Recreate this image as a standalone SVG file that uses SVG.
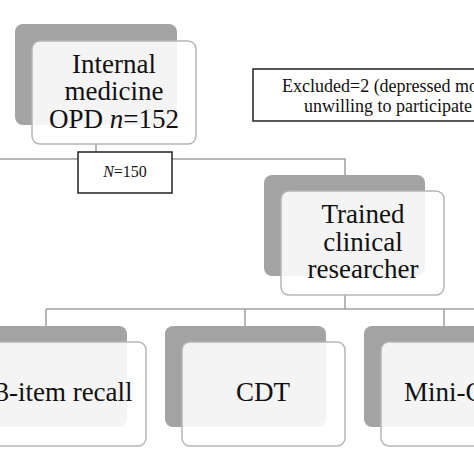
<svg xmlns="http://www.w3.org/2000/svg" width="474" height="474" viewBox="0 0 474 474">
<style>
.back{fill:#a3a3a3}
.front{fill:#ffffff;fill-opacity:0.88;stroke:#b5b5b5;stroke-width:1.5}
.big{font-family:"Liberation Serif",serif;font-size:27px;fill:#111;text-anchor:middle}
.bigl{font-family:"Liberation Serif",serif;font-size:27px;fill:#111;text-anchor:start}
.small{font-family:"Liberation Serif",serif;font-size:18px;fill:#111}
.nlab{font-family:"Liberation Serif",serif;font-size:16px;fill:#111;text-anchor:middle}
.conn{stroke:#a0a0a0;stroke-width:1.5;fill:none}
.box{fill:#fff;stroke:#222;stroke-width:1.5}
</style>
<rect width="474" height="474" fill="#fff"/>
<g id="connectors">
<path class="conn" d="M96 144V152M0 159H345V175M345 295V309M46 309H474M46 309V326M245 309V326M444 309V326"/>
</g>
<g id="opd">
<rect class="back" x="15" y="24" width="162" height="101" rx="8"/>
<rect class="front" x="32" y="41" width="164" height="103" rx="8"/>
<text class="big" x="114" y="73">Internal</text>
<text class="big" x="114" y="100">medicine</text>
<text class="big" x="114" y="128">OPD <tspan font-style="italic">n</tspan>=152</text>
</g>
<g id="n150">
<rect class="box" x="78" y="152" width="94" height="41"/>
<text class="nlab" x="125" y="177"><tspan font-style="italic">N</tspan>=150</text>
</g>
<g id="excluded">
<rect class="box" x="253" y="69" width="240" height="52"/>
<text class="small" x="282" y="92">Excluded=2 (depressed mood=1,</text>
<text class="small" x="304" y="112">unwilling to participate =1)</text>
</g>
<g id="researcher">
<rect class="back" x="264" y="175" width="161" height="101" rx="8"/>
<rect class="front" x="281" y="191" width="163" height="104" rx="8"/>
<text class="big" x="363" y="223">Trained</text>
<text class="big" x="363" y="251">clinical</text>
<text class="big" x="363" y="278">researcher</text>
</g>
<g id="recall">
<rect class="back" x="-34" y="326" width="161" height="101" rx="8"/>
<rect class="front" x="-17" y="342" width="163" height="104" rx="8"/>
<text class="big" x="64" y="401">3-item recall</text>
</g>
<g id="cdt">
<rect class="back" x="165" y="326" width="161" height="101" rx="8"/>
<rect class="front" x="182" y="342" width="163" height="104" rx="8"/>
<text class="big" x="263" y="401">CDT</text>
</g>
<g id="minicog">
<rect class="back" x="364" y="326" width="161" height="101" rx="8"/>
<rect class="front" x="381" y="342" width="163" height="104" rx="8"/>
<text class="bigl" x="404" y="401">Mini-Cog</text>
</g>
</svg>
